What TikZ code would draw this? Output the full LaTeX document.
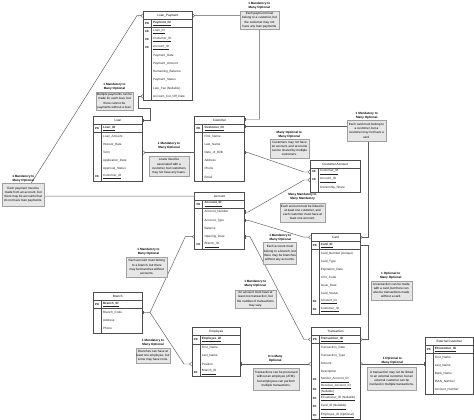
\documentclass[tikz,border=0pt]{standalone}
\usepackage{fontspec}
\setmainfont{Liberation Sans}
\usetikzlibrary{arrows.meta,fit}
\definecolor{tblborder}{HTML}{4D4D4D}
\definecolor{notefill}{HTML}{E6E6E6}
\definecolor{noteborder}{HTML}{A0A0A0}
\definecolor{connc}{HTML}{5A5A5A}
\tikzset{
  tblbox/.style={draw=tblborder, line width=0.45pt, fill=white, inner sep=0pt},
  tblline/.style={draw=tblborder, line width=0.4pt},
  ttl/.style={inner sep=0pt, font=\fontsize{3.1}{3.7}\selectfont},
  keytxt/.style={inner sep=0pt, font=\fontsize{2.8}{3.3}\selectfont\bfseries},
  attr/.style={inner sep=0pt, anchor=west, align=left, font=\fontsize{3.1}{3.9}\selectfont, text=black!85},
  notebox/.style={draw=noteborder, fill=notefill, line width=0.4pt, inner sep=0.5pt, align=center, font=\fontsize{3.1}{4.1}\selectfont},
  lbl/.style={inner sep=0pt, align=center, font=\fontsize{3.1}{4}\selectfont\bfseries},
  conn/.style={draw=connc, line width=0.45pt},
  crow/.tip={Straight Barb[reversed,length=2pt,width=3.6pt,line width=0.45pt]},
  onebar/.tip={Bar[width=3.6pt,line width=0.45pt]},
}
% name, left, top, right, bottom, header bottom, title
\newcommand{\ertable}[7]{%
  \node[tblbox, fit={(#2,#3) (#4,#5)}] (#1) {};
  \draw[tblline] (#2,#6) -- (#4,#6);
  \draw[tblline] ({#2+7.7},#6) -- ({#2+7.7},#5);
  \node[ttl] (#1-title) at ({(#2+#4)/2},{(#3+#6)/2}) {#7};
}
% name, table left, y, key, text
\newcommand{\errow}[5]{%
  \node[keytxt] (#1-k) at ({#2+3.85},#3) {#4};
  \node[attr] (#1) at ({#2+9.6},#3) {#5};
}
\newcommand{\sepline}[3]{\draw[tblline] (#1,#3) -- (#2,#3);}
\newcommand{\pkt}[1]{\textbf{\underline{#1}}}
\newcommand{\fkt}[1]{\underline{#1}}
\begin{document}
\begin{tikzpicture}[x=1pt,y=-1pt]
\fill[white] (0,0) rectangle (474,420);
\path[use as bounding box] (0,0) rectangle (474,420);

% ---------- tables ----------
\ertable{lp}{143.3}{11.7}{192.3}{100.5}{19.5}{Loan\_Payment}
\errow{lp-pk}{143.3}{23.5}{PK}{\pkt{Payment\_ID}}
\sepline{143.3}{192.3}{27.5}
\errow{lp-r1}{143.3}{31.5}{FK}{\fkt{Loan\_ID}}
\errow{lp-r2}{143.3}{39.6}{FK}{\fkt{Customer\_ID}}
\errow{lp-r3}{143.3}{47.7}{FK}{\fkt{Account\_ID}}
\errow{lp-r4}{143.3}{55.8}{}{Payment\_Date}
\errow{lp-r5}{143.3}{63.9}{}{Payment\_Amount}
\errow{lp-r6}{143.3}{72.0}{}{Remaining\_Balance}
\errow{lp-r7}{143.3}{80.1}{}{Payment\_Status}
\errow{lp-r8}{143.3}{88.2}{}{Late\_Fee (Nullable)}
\errow{lp-r9}{143.3}{96.3}{}{Account\_Cut\_Off\_Date}

\ertable{loan}{93.3}{116.7}{142.7}{181}{124.3}{Loan}
\errow{loan-pk}{93.3}{128.3}{PK}{\pkt{Loan\_ID}}
\sepline{93.3}{142.7}{132.3}
\errow{loan-r1}{93.3}{136.4}{}{Loan\_Amount}
\errow{loan-r2}{93.3}{144.5}{}{Interest\_Rate}
\errow{loan-r3}{93.3}{152.6}{}{Term}
\errow{loan-r4}{93.3}{160.7}{}{Application\_Date}
\errow{loan-r5}{93.3}{168.8}{}{Approval\_Status}
\errow{loan-r6}{93.3}{176.9}{FK}{\fkt{Customer\_ID}}

\ertable{cust}{194.7}{116.7}{244.3}{181.5}{124.3}{Customer}
\errow{cust-pk}{194.7}{128.3}{PK}{\pkt{Customer\_ID}}
\sepline{194.7}{244.3}{132.3}
\errow{cust-r1}{194.7}{136.4}{}{First\_Name}
\errow{cust-r2}{194.7}{144.5}{}{Last\_Name}
\errow{cust-r3}{194.7}{152.6}{}{Date\_of\_Birth}
\errow{cust-r4}{194.7}{160.7}{}{Address}
\errow{cust-r5}{194.7}{168.8}{}{Phone}
\errow{cust-r6}{194.7}{176.9}{}{Email}

\ertable{acct}{194.7}{192.3}{244.3}{249.5}{200.1}{Account}
\errow{acct-pk}{194.7}{204.1}{PK}{\pkt{Account\_ID}}
\sepline{194.7}{244.3}{208.1}
\errow{acct-r1}{194.7}{212.1}{}{Account\_Number}
\errow{acct-r2}{194.7}{220.3}{}{Account\_Type}
\errow{acct-r3}{194.7}{228.5}{}{Balance}
\errow{acct-r4}{194.7}{236.7}{}{Opening\_Date}
\errow{acct-r5}{194.7}{244.9}{FK}{\fkt{Branch\_ID}}

\ertable{ca}{310.3}{160}{360}{192}{168}{Customer Account}
\errow{ca-r1}{310.3}{172}{FK}{\fkt{Customer\_ID}}
\errow{ca-r2}{310.3}{180}{FK}{\fkt{Account\_ID}}
\errow{ca-r3}{310.3}{188}{}{Ownership\_Share}

\ertable{card}{311}{233.3}{360}{314.5}{241.1}{Card}
\errow{card-pk}{311}{245.1}{PK}{\pkt{Card\_ID}}
\sepline{311}{360}{249.1}
\errow{card-r1}{311}{253.2}{}{Card\_Number (Unique)}
\errow{card-r2}{311}{261.3}{}{Card\_Type}
\errow{card-r3}{311}{269.4}{}{Expiration\_Date}
\errow{card-r4}{311}{277.5}{}{CVV\_Code}
\errow{card-r5}{311}{285.6}{}{Issue\_Date}
\errow{card-r6}{311}{293.7}{}{Card\_Status}
\errow{card-r7}{311}{301.8}{FK}{\fkt{Account\_ID}}
\errow{card-r8}{311}{309.9}{FK}{\fkt{Customer\_ID}}

\ertable{tr}{311}{327.5}{360}{419.6}{335.5}{Transaction}
\errow{tr-pk}{311}{339.5}{PK}{\pkt{Transaction\_ID}}
\sepline{311}{360}{343.5}
\errow{tr-r1}{311}{347.6}{}{Transaction\_Date}
\errow{tr-r2}{311}{355.7}{}{Transaction\_Type}
\errow{tr-r3}{311}{363.8}{}{Amount}
\errow{tr-r4}{311}{371.9}{}{Description}
\errow{tr-r5}{311}{380.0}{FK}{\fkt{Sender\_Account\_ID}}
\errow{tr-r6}{311}{389.4}{FK}{\fkt{Receiver\_Account\_ID}\\\fkt{(Nullable)}}
\errow{tr-r7}{311}{398.8}{FK}{\fkt{ECustomer\_ID (Nullable)}}
\errow{tr-r8}{311}{407.0}{FK}{\fkt{Card\_ID (Nullable)}}
\errow{tr-r9}{311}{415.2}{FK}{\fkt{Employee\_ID (Optional)}}

\ertable{emp}{192}{327.7}{240.7}{376.2}{335.6}{Employee}
\errow{emp-pk}{192}{339.7}{PK}{\pkt{Employee\_ID}}
\sepline{192}{240.7}{343.7}
\errow{emp-r1}{192}{347.8}{}{First\_Name}
\errow{emp-r2}{192}{355.9}{}{Last\_Name}
\errow{emp-r3}{192}{364.0}{}{Position}
\errow{emp-r4}{192}{372.1}{FK}{\fkt{Branch\_ID}}

\ertable{br}{93.3}{292.3}{142.3}{333.3}{300.3}{Branch}
\errow{br-pk}{93.3}{304.4}{PK}{\pkt{Branch\_ID}}
\sepline{93.3}{142.3}{308.4}
\errow{br-r1}{93.3}{312.5}{}{Branch\_Code}
\errow{br-r2}{93.3}{320.6}{}{Address}
\errow{br-r3}{93.3}{328.7}{}{Phone}

\ertable{ext}{425}{337.3}{473.7}{394.3}{345.3}{External Customer}
\errow{ext-pk}{425}{349.4}{PK}{\pkt{ECustomer\_ID}}
\sepline{425}{473.7}{353.4}
\errow{ext-r1}{425}{357.5}{}{First\_Name}
\errow{ext-r2}{425}{365.6}{}{Last\_Name}
\errow{ext-r3}{425}{373.7}{}{Bank\_Name}
\errow{ext-r4}{425}{381.8}{}{IBAN\_Number}
\errow{ext-r5}{425}{389.9}{}{Account\_Number}

% ---------- connectors ----------
\draw[conn, crow-onebar] (lp.west |- lp-r9) -- (138,96.3) -- (138,108.3) -- (150,108.3) -- (150,120.5) -- (loan.east |- loan-title);
\draw[conn, crow-onebar] (lp.east |- lp-title) -- (259.3,15.6) -- (259.3,119.5) -- (cust.east |- 0,119.5);
\draw[conn, onebar-crow] (cust.east |- 0,126.5) -- (368,126.5) -- (368,237.2) -- (card.east |- card-title);
\draw[conn, crow-onebar] (loan.east |- loan-r3) -- (cust.west |- cust-r3);
\draw[conn, crow-onebar] (lp.west |- lp-title) -- (137,15.6) -- (23,196.2) -- (acct.west |- acct-title);
\draw[conn, onebar-crow] (cust.east |- cust-r3) -- (248,152.6) -- (304,172) -- (ca.west |- ca-r1);
\draw[conn, onebar-crow] (acct.east |- acct-r1) -- (248,212.1) -- (304,180) -- (ca.west |- ca-r2);
\draw[conn, onebar-crow] (acct.east |- acct-r2) -- (248,220.3) -- (304,237.2) -- (card.west |- card-title);
\draw[conn, onebar-crow] (br.east |- br-r1) -- (150,312.5) -- (185.3,236.7) -- (acct.west |- acct-r4);
\draw[conn, onebar-crow] (br.east |- br-r1) -- (150,312.5) -- (184,364) -- (emp.west |- emp-r3);
\draw[conn, onebar-crow] (acct.east |- acct-r4) -- (250,236.7) -- (304,339.5) -- (tr.west |- tr-pk);
\draw[conn, onebar-crow] (emp.east |- emp-r3) -- (tr.west |- emp-r3);
\draw[conn, onebar-crow] (card.east |- card-pk) -- (368,245.1) -- (368,339.5) -- (tr.east |- tr-pk);
\draw[conn, onebar-crow] (ext.west |- tr-r3) -- (tr.east |- tr-r3);

% ---------- notes ----------
\node[notebox, minimum width=37.6pt, minimum height=17.7pt] (n1) at (114.5,101.2) {Multiple payments can be\\made for each loan, but\\there cannot be\\payments without a loan.};
\node[lbl] (n1t) at (114.5,87) {1 Mandatory to\\Many Optional};

\node[notebox, minimum width=38.4pt, minimum height=18.3pt] (n2) at (259.5,20.2) {Each payment must\\belong to a customer, but\\the customer may not\\have any loan payments};
\node[lbl] (n2t) at (259.3,5.6) {1 Mandatory to\\Many Optional};

\node[notebox, minimum width=38.4pt, minimum height=20.3pt] (n3) at (366.5,130.8) {Each card must belong to\\a customer, but a\\customer may not have a\\card.};
\node[lbl] (n3t) at (366.7,115.3) {1 Mandatory to\\Many Optional};

\node[notebox, minimum width=39.4pt, minimum height=19.3pt] (n4) at (169,166.3) {Loans must be\\associated with a\\customer, but customers\\may not have any loans.};
\node[lbl] (n4t) at (169,145.2) {1 Mandatory to\\Many Optional};

\node[notebox, minimum width=41.7pt, minimum height=22.7pt] (n5) at (23.2,194.7) {Each payment must be\\made from an account, but\\there may be accounts that\\do not have loan payments.};
\node[lbl] (n5t) at (23.3,178.7) {1 Mandatory to\\Many Optional};

\node[notebox, minimum width=38.4pt, minimum height=19pt] (n6) at (289.5,148.5) {Customers may not have\\an account, and accounts\\can be shared by multiple\\customers.};
\node[lbl] (n6t) at (289.3,134.2) {Many Optional to\\Many Optional};

\node[notebox, minimum width=45.6pt, minimum height=19pt] (n7) at (302.5,212.2) {Each account must be linked to\\at least one customer, and\\each customer must have at\\least one account.};
\node[lbl] (n7t) at (302.5,197) {Many Mandatory to\\Many Mandatory};

\node[notebox, minimum width=27.4pt, minimum height=21.3pt] (n8) at (280,253.3) {Each account must\\belong to a branch, but\\there may be branches\\without any accounts.};
\node[lbl] (n8t) at (280.3,237.5) {1 Mandatory to\\Many Optional};

\node[notebox, minimum width=40.3pt, minimum height=19.4pt] (n9) at (146.8,267) {Each account must belong\\to a branch, but there\\may be branches without\\accounts.};
\node[lbl] (n9t) at (148.5,251.3) {1 Mandatory to\\Many Optional};

\node[notebox, minimum width=34.6pt, minimum height=14.4pt] (n10) at (153,355.5) {Branches can have at\\least one employee, but\\some may have none.};
\node[lbl] (n10t) at (153,342.3) {1 Mandatory to\\Many Optional};

\node[notebox, minimum width=41.6pt, minimum height=18.3pt] (n11) at (255.5,299.2) {An account must have at\\least one transaction, but\\the number of transactions\\may vary.};
\node[lbl] (n11t) at (255.3,283.7) {1 Mandatory to\\Many Optional};

\node[notebox, minimum width=46.3pt, minimum height=21.7pt] (n12) at (276.2,379.2) {Transactions can be processed\\without an employee (ATM),\\but employees can perform\\multiple transactions.};
\node[lbl] (n12t) at (275.3,358.7) {0 to Many\\Optional};

\node[notebox, minimum width=41pt, minimum height=19pt] (n13) at (391.2,290.5) {A transaction can be made\\with a card, but there can\\also be transactions made\\without a card.};
\node[lbl] (n13t) at (390.7,276) {1 Optional to\\Many Optional};

\node[notebox, minimum width=49pt, minimum height=22.3pt] (n14) at (391.8,378.8) {A transaction may not be linked\\to an external customer, but an\\external customer can be\\involved in multiple transactions.};
\node[lbl] (n14t) at (392.3,360.2) {1 Optional to\\Many Optional};
\end{tikzpicture}
\end{document}
